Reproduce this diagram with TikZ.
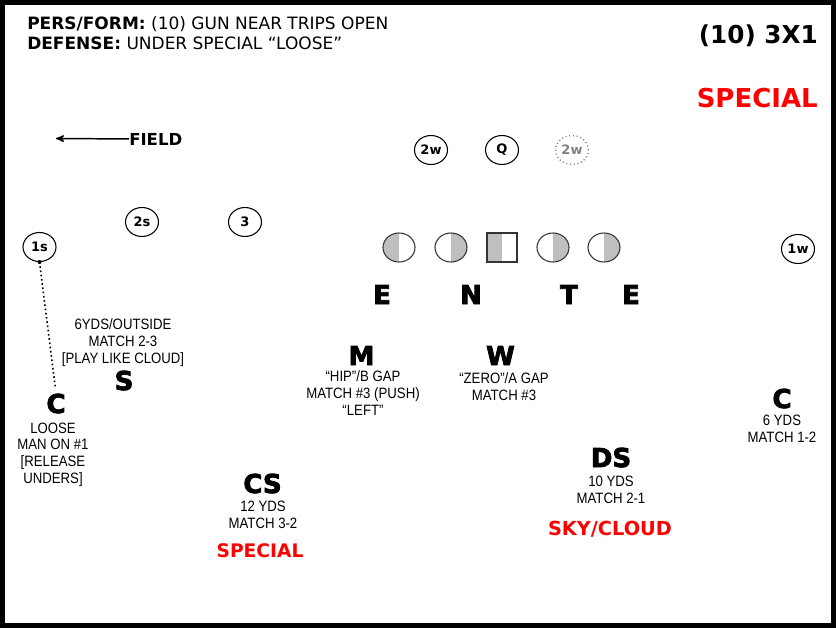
\documentclass[tikz,border=0pt]{standalone}
\usepackage{fontspec}
\setmainfont{DejaVu Sans}
\newfontfamily\notefont[FakeStretch=0.88]{Liberation Sans}
\newfontfamily\heavyfont[BoldFeatures={FakeBold=3}]{DejaVu Sans}
\usetikzlibrary{arrows}
\usetikzlibrary{shapes.geometric}
\tikzset{
  player/.style={draw, ellipse, line width=0.8pt, minimum width=24.75pt, minimum height=21.75pt, inner sep=0pt, font=\bfseries\fontsize{9.75}{10}\selectfont},
  ghost/.style={draw=gray, dotted, line width=1pt, text=gray},
  dlineman/.style={draw=black!80, line width=0.8pt, minimum width=24pt, minimum height=21.75pt, inner sep=0pt},
  shadeleft/.style={path picture={\fill[black!25] (path picture bounding box.south west) rectangle (path picture bounding box.north);}},
  shaderight/.style={path picture={\fill[black!25] (path picture bounding box.south) rectangle (path picture bounding box.north east);}},
  defender/.style={anchor=base, inner sep=0.5pt, font=\heavyfont\bfseries\fontsize{19.5}{20}\selectfont},
  note/.style={anchor=base, align=center, inner sep=0pt, font=\notefont\fontsize{11.25}{12.4}\selectfont},
  call/.style={anchor=base, inner sep=0pt, text=red, font=\bfseries\fontsize{14}{16}\selectfont},
  header/.style={anchor=base west, inner sep=0pt, font=\fontsize{12.75}{14}\selectfont}
}

\begin{document}
\begin{tikzpicture}[x=0.75pt,y=-0.75pt]
\useasboundingbox (0,0) rectangle (840,628);
\draw[line width=3.75pt] (2,2) rectangle (833.5,625.5);

% header
\node[header] (persForm) at (27,29) {\textbf{PERS/FORM:} (10) GUN NEAR TRIPS OPEN};
\node[header] (defense) at (27,50) {\textbf{DEFENSE:} UNDER SPECIAL “LOOSE”};
\node[anchor=base east, inner sep=0pt, font=\bfseries\fontsize{18.5}{20}\selectfont] (persCount) at (818,43) {(10) 3X1};
\node[anchor=base east, inner sep=0pt, text=red, font=\bfseries\fontsize{19.5}{22}\selectfont] (callTop) at (818,107) {SPECIAL};

% field side
\node[anchor=base west, inner sep=0pt, font=\bfseries\fontsize{12.4}{14}\selectfont] (fieldLbl) at (129,145) {FIELD};
\coordinate (fieldTip) at (56,138.5);
\draw[black, line width=1.1pt, ->, >=stealth'] (fieldLbl.west) -- (fieldTip);

% offense
\node[player] (rec1s) at (39.5,247) {1s};
\node[player] (rec2s) at (142,222) {2s};
\node[player] (rec3) at (245,222) {3};
\node[player] (rec2w) at (431,150) {2w};
\node[player] (qb) at (502,150) {Q};
\node[player, ghost] (rec2wAlt) at (572,150) {2w};
\node[player] (rec1w) at (798,249) {1w};
\foreach \x/\half in {399/shadeleft, 451/shaderight, 553/shaderight, 604/shaderight}
 \node[dlineman, ellipse, \half] (ol\x) at (\x,247.5) {};
\node[dlineman, rectangle, shadeleft, minimum width=22.5pt] (olC) at (502,247.5) {};

% front
\foreach \x/\l in {382/E, 471/N, 569/T, 631/E}
 \node[defender] (dl\x) at (\x,304) {\l};

% second level and coverage
\node[defender] (samS) at (124,390) {S};
\node[defender] (cornL) at (56,413) {C};
\node[defender] (mikeM) at (361.5,365) {M};
\node[defender] (willW) at (500.5,365) {W};
\node[defender] (cornR) at (782,408) {C};
\node[defender] (cornSafety) at (262.5,493) {CS};
\node[defender] (deepSafety) at (611,467) {DS};

% notes (anchored on the last line)
\node[note] (samNote) at (123,363) {6YDS/OUTSIDE\\MATCH 2-3\\{[PLAY LIKE CLOUD]}};
\node[note] (cornLNote) at (53,483) {LOOSE\\MAN ON \#1\\{[RELEASE}\\UNDERS]};
\node[note] (mikeNote) at (363,415) {“HIP”/B GAP\\MATCH \#3 (PUSH)\\“LEFT”};
\node[note] (willNote) at (504,400) {“ZERO”/A GAP\\MATCH \#3};
\node[note] (cornRNote) at (782,442) {6 YDS\\MATCH 1-2};
\node[note] (csNote) at (263,528) {12 YDS\\MATCH 3-2};
\node[note] (dsNote) at (611,503) {10 YDS\\MATCH 2-1};
\node[call] (csCall) at (260,557) {SPECIAL};
\node[call, font=\bfseries\fontsize{14.5}{16}\selectfont] (dsCall) at (610,535) {SKY/CLOUD};

% loose man on #1
\fill (rec1s.south) circle (2);
\draw[black, line width=1.2pt, dotted, shorten >=3pt] (rec1s.south) -- (cornL.north);
\end{tikzpicture}
\end{document}
